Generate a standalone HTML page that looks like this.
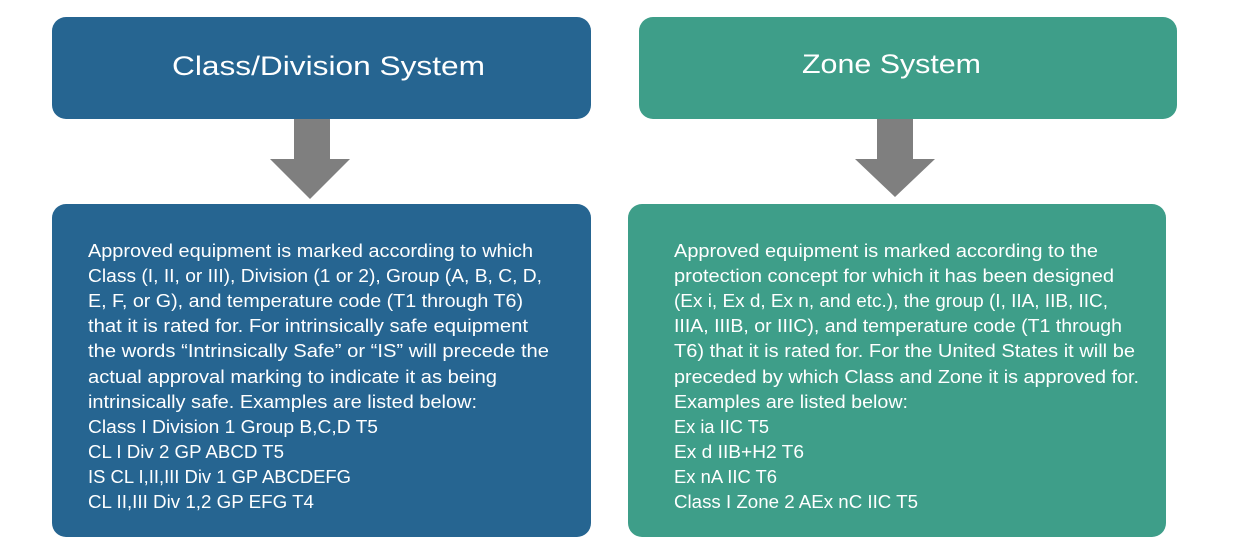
<!DOCTYPE html>
<html><head><meta charset="utf-8"><style>
html,body{margin:0;padding:0;background:#fff;width:1234px;height:556px;overflow:hidden}
text{font-family:"Liberation Sans Narrow","Liberation Sans",sans-serif;fill:#fff}
</style></head><body>
<svg width="1234" height="556" viewBox="0 0 1234 556" xmlns="http://www.w3.org/2000/svg">
<rect x="52" y="17" width="539" height="102" rx="14" fill="#266591"/>
<rect x="639" y="17" width="538" height="102" rx="14" fill="#3e9e89"/>
<rect x="52" y="204" width="539" height="333" rx="14" fill="#266591"/>
<rect x="628" y="204" width="538" height="333" rx="14" fill="#3e9e89"/>
<polygon points="294,119 330,119 330,159 350,159 310,199 270,159 294,159" fill="#7f7f7f"/>
<polygon points="877,119 913,119 913,159 935,159 895,197 855,159 877,159" fill="#7f7f7f"/>
<text x="172" y="75" font-size="27" textLength="313" lengthAdjust="spacingAndGlyphs">Class/Division System</text>
<text x="802" y="73" font-size="27" textLength="179" lengthAdjust="spacingAndGlyphs">Zone System</text>
<g font-size="18">
<text x="88" y="257" textLength="445" lengthAdjust="spacingAndGlyphs">Approved equipment is marked according to which</text>
<text x="88" y="282" textLength="454" lengthAdjust="spacingAndGlyphs">Class (I, II, or III), Division (1 or 2), Group (A, B, C, D,</text>
<text x="88" y="307" textLength="435" lengthAdjust="spacingAndGlyphs">E, F, or G), and temperature code (T1 through T6)</text>
<text x="88" y="332" textLength="440" lengthAdjust="spacingAndGlyphs">that it is rated for. For intrinsically safe equipment</text>
<text x="88" y="357" textLength="461" lengthAdjust="spacingAndGlyphs">the words “Intrinsically Safe” or “IS” will precede the</text>
<text x="88" y="383" textLength="409" lengthAdjust="spacingAndGlyphs">actual approval marking to indicate it as being</text>
<text x="88" y="408" textLength="389" lengthAdjust="spacingAndGlyphs">intrinsically safe. Examples are listed below:</text>
<text x="88" y="433" textLength="290" lengthAdjust="spacingAndGlyphs">Class I Division 1 Group B,C,D T5</text>
<text x="88" y="458" textLength="196" lengthAdjust="spacingAndGlyphs">CL I Div 2 GP ABCD T5</text>
<text x="88" y="483" textLength="263" lengthAdjust="spacingAndGlyphs">IS CL I,II,III Div 1 GP ABCDEFG</text>
<text x="88" y="508" textLength="226" lengthAdjust="spacingAndGlyphs">CL II,III Div 1,2 GP EFG T4</text>

<text x="674" y="257" textLength="424" lengthAdjust="spacingAndGlyphs">Approved equipment is marked according to the</text>
<text x="674" y="282" textLength="440" lengthAdjust="spacingAndGlyphs">protection concept for which it has been designed</text>
<text x="674" y="307" textLength="434" lengthAdjust="spacingAndGlyphs">(Ex i, Ex d, Ex n, and etc.), the group (I, IIA, IIB, IIC,</text>
<text x="674" y="332" textLength="448" lengthAdjust="spacingAndGlyphs">IIIA, IIIB, or IIIC), and temperature code (T1 through</text>
<text x="674" y="357" textLength="461" lengthAdjust="spacingAndGlyphs">T6) that it is rated for. For the United States it will be</text>
<text x="674" y="383" textLength="465" lengthAdjust="spacingAndGlyphs">preceded by which Class and Zone it is approved for.</text>
<text x="674" y="408" textLength="234" lengthAdjust="spacingAndGlyphs">Examples are listed below:</text>
<text x="674" y="433" textLength="95" lengthAdjust="spacingAndGlyphs">Ex ia IIC T5</text>
<text x="674" y="458" textLength="130" lengthAdjust="spacingAndGlyphs">Ex d IIB+H2 T6</text>
<text x="674" y="483" textLength="103" lengthAdjust="spacingAndGlyphs">Ex nA IIC T6</text>
<text x="674" y="508" textLength="244" lengthAdjust="spacingAndGlyphs">Class I Zone 2 AEx nC IIC T5</text>
</g>
</svg>
</body></html>
